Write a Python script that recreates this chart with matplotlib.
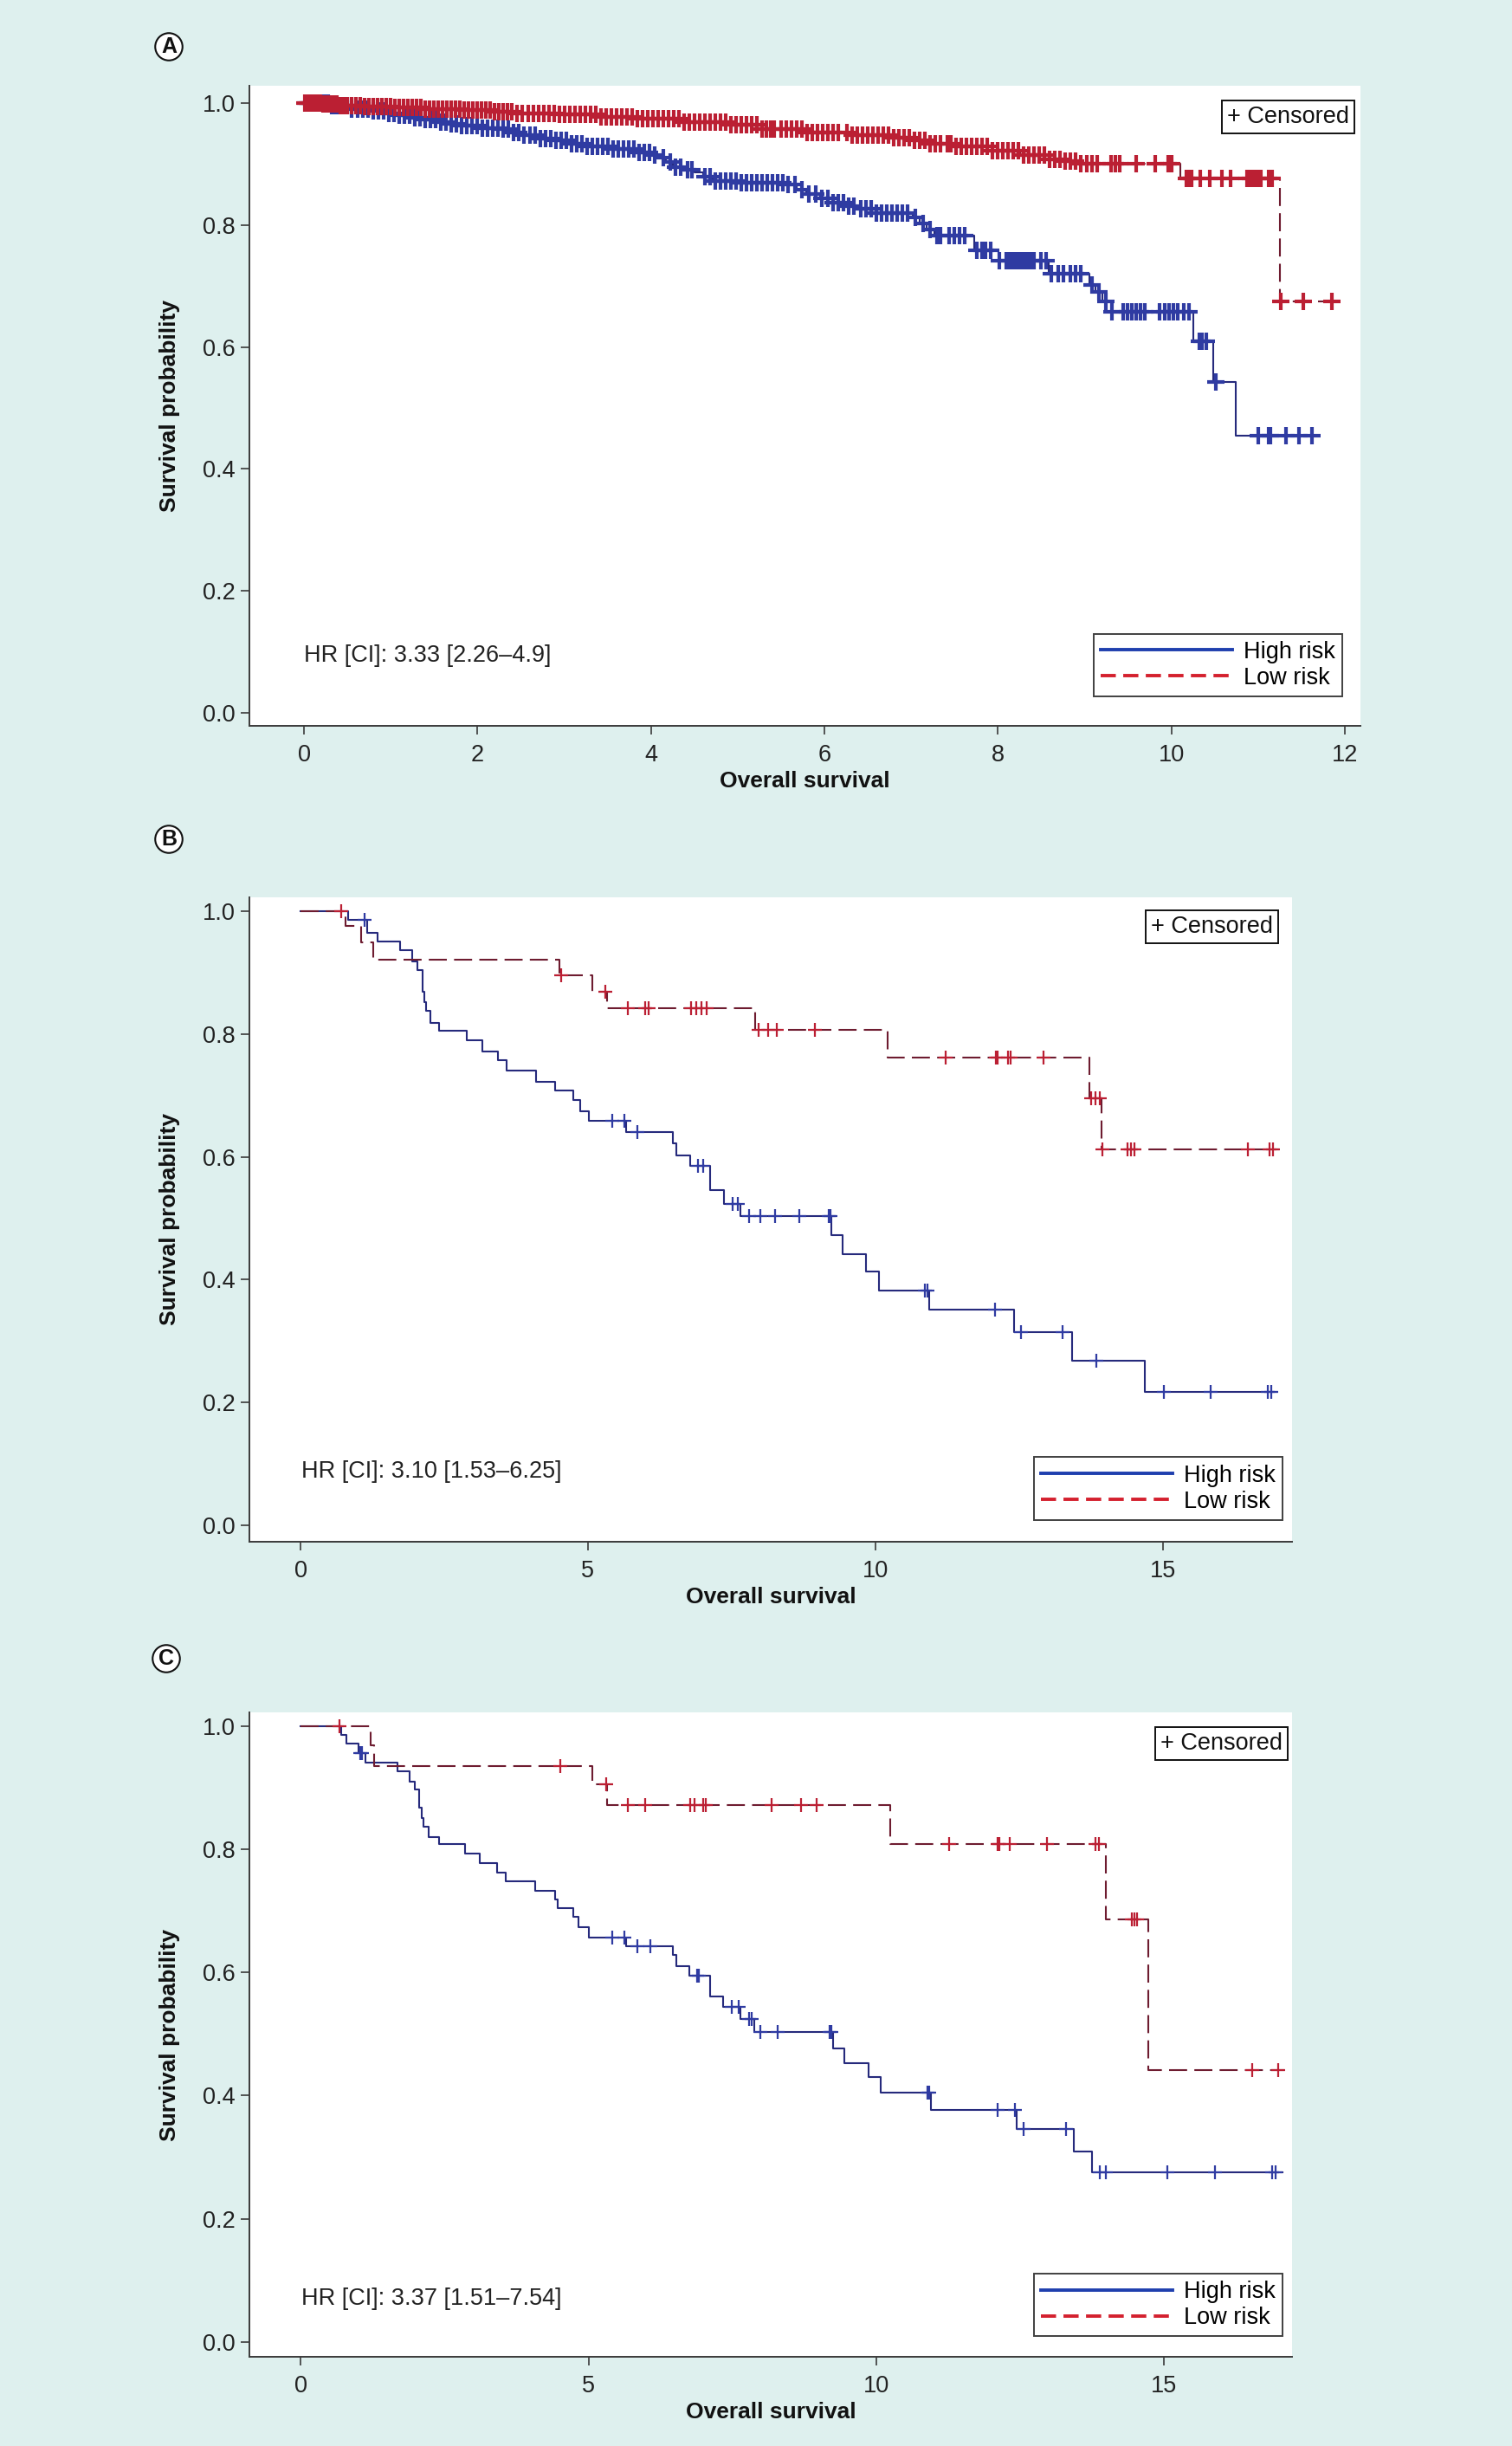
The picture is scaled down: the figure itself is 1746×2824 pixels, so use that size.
import numpy as np
import matplotlib
matplotlib.use("Agg")
import matplotlib.pyplot as plt
from matplotlib.lines import Line2D

plt.rcParams['font.family'] = ['Liberation Sans', 'DejaVu Sans']

# ---------------- Panel A data ----------------
a_high_times = [0.30, 0.53, 0.75, 0.94, 1.10, 1.23, 1.40, 1.56, 1.70, 1.81, 2.05, 2.27, 2.40, 2.52,
                2.70, 2.89, 3.05, 3.26, 3.51, 3.84, 4.00, 4.09, 4.17, 4.25, 4.38, 4.50, 4.60, 4.71,
                5.00, 5.58, 5.68, 5.79, 5.95, 6.10, 6.25, 6.40, 6.55, 7.02, 7.10, 7.18, 7.27, 7.73,
                8.01, 8.59, 9.05, 9.12, 9.20, 9.30, 10.25, 10.48, 10.74]
a_high_surv = [0.995, 0.990, 0.987, 0.983, 0.980, 0.976, 0.972, 0.969, 0.965, 0.962, 0.959, 0.957,
               0.952, 0.947, 0.942, 0.938, 0.933, 0.928, 0.924, 0.919, 0.914, 0.910, 0.903, 0.895,
               0.891, 0.886, 0.879, 0.872, 0.869, 0.866, 0.858, 0.850, 0.843, 0.836, 0.831, 0.826,
               0.819, 0.812, 0.802, 0.792, 0.782, 0.758, 0.741, 0.720, 0.701, 0.690, 0.675, 0.658,
               0.609, 0.542, 0.455]
a_high_end = 11.69
a_high_cens = [0.02, 0.05, 0.08, 0.11, 0.14, 0.17, 0.20, 0.24, 0.28, 0.32, 0.36, 0.40, 0.45, 0.50, 0.55,
               0.62, 0.68, 0.74, 0.80, 0.86, 0.92, 0.98, 1.04, 1.10, 1.16, 1.22, 1.28, 1.34, 1.40, 1.46,
               1.52, 1.58, 1.64, 1.70, 1.76, 1.82, 1.88, 1.94, 2.00, 2.06, 2.12, 2.18, 2.24, 2.30, 2.36,
               2.42, 2.48, 2.54, 2.60, 2.66, 2.72, 2.78, 2.84, 2.90, 2.96, 3.02, 3.08, 3.14, 3.20, 3.26,
               3.32, 3.38, 3.44, 3.50, 3.56, 3.62, 3.68, 3.74, 3.80, 3.86, 3.92, 3.98, 4.04,
               4.14, 4.22, 4.28, 4.34, 4.42, 4.47,
               4.62, 4.68, 4.74, 4.80, 4.86, 4.92, 4.98, 5.04, 5.10, 5.16, 5.22, 5.28, 5.34, 5.40, 5.46,
               5.52, 5.58, 5.66, 5.74, 5.82, 5.90, 5.97,
               6.04, 6.10, 6.16, 6.22, 6.28, 6.34, 6.42, 6.48, 6.54, 6.60, 6.66, 6.72, 6.78, 6.84, 6.90,
               6.96, 7.05, 7.14, 7.22, 7.30, 7.34, 7.44, 7.50, 7.56, 7.62, 7.76, 7.82, 7.86, 7.92, 8.02,
               8.10, 8.14, 8.18, 8.22, 8.26, 8.30, 8.34, 8.38, 8.42, 8.50, 8.56, 8.62, 8.70, 8.76, 8.84,
               8.90, 8.96, 9.08, 9.16, 9.24,
               9.31, 9.44, 9.49, 9.54, 9.59, 9.64, 9.69, 9.86, 9.92, 9.97, 10.02, 10.07, 10.14, 10.20,
               10.32, 10.35, 10.40, 10.51, 11.00, 11.12, 11.14, 11.32, 11.47, 11.62]

a_low_times = [0.20, 0.41, 0.70, 1.03, 1.40, 1.85, 2.20, 2.43, 2.93, 3.40, 3.84, 4.34, 4.88, 5.25,
               5.79, 6.32, 6.77, 7.00, 7.20, 7.52, 7.90, 8.26, 8.60, 8.76, 8.92, 10.10, 11.25]
a_low_surv = [0.998, 0.996, 0.994, 0.992, 0.990, 0.988, 0.985, 0.983, 0.981, 0.977, 0.974, 0.969,
              0.964, 0.957, 0.952, 0.947, 0.943, 0.938, 0.933, 0.928, 0.922, 0.914, 0.908, 0.904,
              0.900, 0.876, 0.675]
a_low_end = 11.94
a_low_cens = [0.01, 0.04, 0.07, 0.10, 0.13, 0.16, 0.19, 0.22, 0.26, 0.30, 0.34, 0.38, 0.42, 0.46, 0.50,
              0.55, 0.60, 0.65, 0.70, 0.75, 0.80, 0.85, 0.90, 0.95, 1.00, 1.05, 1.10, 1.15, 1.20, 1.25,
              1.30, 1.35, 1.40, 1.45, 1.50, 1.55, 1.60, 1.65, 1.70, 1.75, 1.80, 1.85, 1.90, 1.95, 2.00,
              2.05, 2.10, 2.15, 2.20, 2.25, 2.30, 2.35, 2.40,
              2.46, 2.52, 2.58, 2.64, 2.70, 2.76, 2.82, 2.88, 2.94, 3.00, 3.06, 3.12, 3.18, 3.24, 3.30,
              3.36, 3.42, 3.48, 3.54, 3.60, 3.66, 3.72, 3.78, 3.84, 3.90, 3.96, 4.02, 4.08, 4.14, 4.20,
              4.26, 4.32, 4.38, 4.44, 4.50, 4.56, 4.62, 4.68, 4.74, 4.80, 4.86, 4.92, 4.98, 5.04, 5.10,
              5.16, 5.22, 5.28,
              5.33, 5.38, 5.42, 5.50, 5.56, 5.62, 5.68, 5.74,
              5.80, 5.86, 5.92, 5.98, 6.04, 6.10, 6.16, 6.26, 6.32, 6.38, 6.44, 6.50, 6.56, 6.62, 6.68,
              6.74, 6.80, 6.86, 6.92, 6.98, 7.04, 7.10, 7.16, 7.22, 7.28, 7.34, 7.42, 7.46, 7.52, 7.58,
              7.64, 7.70, 7.76, 7.82, 7.88, 7.94, 8.00, 8.06, 8.12, 8.18, 8.24, 8.30, 8.36, 8.42, 8.48,
              8.54, 8.60, 8.66, 8.72, 8.78, 8.84, 8.90, 8.96,
              9.02, 9.08, 9.14, 9.30, 9.35, 9.40, 9.59, 9.81, 9.96, 10.00,
              10.17, 10.20, 10.23, 10.33, 10.44, 10.58, 10.68, 10.87, 10.91, 10.95, 10.99, 11.03,
              11.12, 11.16, 11.26, 11.52, 11.85]

# ---------------- Panel B data ----------------
b_high_times = [0.835, 1.16, 1.34, 1.73, 1.94, 2.03, 2.12, 2.16, 2.19, 2.26, 2.41, 2.89, 3.16, 3.44,
                3.58, 4.10, 4.43, 4.75, 4.86, 5.02, 5.66, 6.48, 6.54, 6.78, 7.12, 7.36, 7.66, 9.24,
                9.43, 9.84, 10.06, 10.93, 12.41, 13.42, 14.69]
b_high_surv = [0.986, 0.965, 0.951, 0.937, 0.918, 0.904, 0.869, 0.852, 0.838, 0.819, 0.805, 0.790,
               0.772, 0.758, 0.741, 0.723, 0.708, 0.693, 0.674, 0.659, 0.641, 0.622, 0.603, 0.585,
               0.546, 0.524, 0.503, 0.473, 0.442, 0.413, 0.382, 0.351, 0.315, 0.268, 0.217]
b_high_end = 16.98
b_high_cens = [1.12, 5.42, 5.64, 5.86, 6.91, 7.00, 7.51, 7.61, 7.80, 8.00, 8.25, 8.68, 9.19, 9.22,
               10.86, 10.90, 12.08, 12.54, 13.26, 13.85, 15.02, 15.84, 16.83, 16.89]

b_low_times = [0.78, 1.05, 1.26, 4.50, 5.08, 5.33, 7.91, 10.22, 13.72, 13.93]
b_low_surv = [0.977, 0.950, 0.921, 0.896, 0.869, 0.842, 0.807, 0.762, 0.695, 0.613]
b_low_end = 17.03
b_low_cens = [0.71, 4.53, 5.30, 5.69, 6.00, 6.05, 6.79, 6.88, 6.97, 7.06, 7.97, 8.13, 8.28, 8.95,
              11.23, 12.09, 12.12, 12.31, 12.35, 12.92, 13.75, 13.83, 13.90, 13.95, 14.39, 14.45,
              14.51, 16.48, 16.86, 16.92]

# ---------------- Panel C data ----------------
c_high_times = [0.70, 0.80, 1.00, 1.13, 1.68, 1.89, 1.99, 2.06, 2.10, 2.14, 2.23, 2.40, 2.85, 3.11,
                3.41, 3.56, 4.07, 4.42, 4.46, 4.73, 4.83, 5.00, 5.65, 6.47, 6.53, 6.75, 7.11, 7.34,
                7.64, 7.88, 9.25, 9.45, 9.86, 10.08, 10.95, 12.43, 13.43, 13.74]
c_high_surv = [0.985, 0.971, 0.956, 0.941, 0.926, 0.910, 0.897, 0.868, 0.851, 0.837, 0.820, 0.809,
               0.793, 0.778, 0.762, 0.748, 0.733, 0.719, 0.704, 0.690, 0.674, 0.657, 0.643, 0.628,
               0.610, 0.595, 0.561, 0.544, 0.524, 0.503, 0.477, 0.453, 0.430, 0.405, 0.376, 0.346,
               0.309, 0.276]
c_high_end = 17.06
c_high_cens = [1.04, 1.07, 5.41, 5.62, 5.85, 6.07, 6.89, 6.92, 7.49, 7.61, 7.79, 7.83, 7.99, 8.28,
               9.19, 9.22, 10.89, 10.92, 12.10, 12.41, 12.55, 13.29, 13.88, 13.98, 15.06, 15.88,
               16.88, 16.93]

c_low_times = [1.22, 1.28, 5.06, 5.32, 10.24, 13.98, 14.73]
c_low_surv = [0.968, 0.935, 0.905, 0.871, 0.809, 0.686, 0.441]
c_low_end = 17.09
c_low_cens = [0.67, 4.51, 5.30, 5.68, 5.98, 6.77, 6.84, 6.99, 7.03, 8.18, 8.69, 8.96, 11.26, 12.10,
              12.14, 12.32, 12.96, 13.81, 13.87, 14.44, 14.48, 14.53, 16.53, 16.98]

hr_texts = ["HR [CI]: 3.33 [2.26\u20134.9]", "HR [CI]: 3.10 [1.53\u20136.25]", "HR [CI]: 3.37 [1.51\u20137.54]"]
panel_letters = ["A", "B", "C"]
series_labels = ["High risk", "Low risk"]

# ---------------- styling ----------------
BG = '#def0ee'
BLUE_LINE = '#262a7c'
BLUE_MARK = '#2f3ba2'
RED_LINE = '#6e1c30'
RED_MARK = '#bb1f33'
LEG_BLUE = '#1f3fae'
LEG_RED = '#d4202e'
FS = 19.5
LFS = 19

fig = plt.figure(figsize=(17.46, 28.24), dpi=100, facecolor=BG)


def step_value(times, surv, t):
    idx = np.searchsorted(np.asarray(times), t, side='right')
    vals = np.concatenate([[1.0], np.asarray(surv)])
    return vals[idx]


def draw_km(ax, times, surv, end, cens, lcol, mcol, ls, ms, mew):
    x = [0.0] + list(times) + [end]
    y = [1.0] + list(surv) + [surv[-1]]
    ax.step(x, y, where='post', color=lcol, lw=1.5, linestyle=ls, zorder=3)
    cy = step_value(times, surv, np.asarray(cens))
    ax.plot(cens, cy, linestyle='none', marker='+', markersize=ms, markeredgewidth=mew,
            color=mcol, zorder=4)


panels = [
    dict(rect=[288, 99, 1571, 838], xlim=(-0.63, 12.18), ylim=(-0.021, 1.028), xticks=[0, 2, 4, 6, 8, 10, 12],
         high=(a_high_times, a_high_surv, a_high_end, a_high_cens),
         low=(a_low_times, a_low_surv, a_low_end, a_low_cens), ms=15, mew=3.0,
         cens_box=(0.990, 0.969), leg=(0.984, 0.046), hr=(0.049, 0.110), letter=(195, 54)),
    dict(rect=[288, 1036, 1492, 1780], xlim=(-0.89, 17.25), ylim=(-0.027, 1.023), xticks=[0, 5, 10, 15],
         high=(b_high_times, b_high_surv, b_high_end, b_high_cens),
         low=(b_low_times, b_low_surv, b_low_end, b_low_cens), ms=12, mew=1.6,
         cens_box=(0.982, 0.972), leg=(0.991, 0.034), hr=(0.050, 0.109), letter=(195, 969)),
    dict(rect=[288, 1977, 1492, 2721], xlim=(-0.89, 17.22), ylim=(-0.024, 1.022), xticks=[0, 5, 10, 15],
         high=(c_high_times, c_high_surv, c_high_end, c_high_cens),
         low=(c_low_times, c_low_surv, c_low_end, c_low_cens), ms=12, mew=1.6,
         cens_box=(0.991, 0.969), leg=(0.991, 0.032), hr=(0.050, 0.090), letter=(192, 1915)),
]

W, H = 1746.0, 2824.0
for i, p in enumerate(panels):
    l, t, r, b = p['rect']
    ax = fig.add_axes([l / W, 1 - b / H, (r - l) / W, (b - t) / H])
    ax.set_facecolor('white')
    for s in ['top', 'right']:
        ax.spines[s].set_visible(False)
    for s in ['left', 'bottom']:
        ax.spines[s].set_color('#3a3a3a')
        ax.spines[s].set_linewidth(1.4)
    draw_km(ax, *p['high'], BLUE_LINE, BLUE_MARK, '-', p['ms'], p['mew'])
    draw_km(ax, *p['low'], RED_LINE, RED_MARK, (0, (10, 4)), p['ms'], p['mew'])
    ax.set_xlim(*p['xlim'])
    ax.set_ylim(*p['ylim'])
    ax.set_xticks(p['xticks'])
    ax.set_yticks([0.0, 0.2, 0.4, 0.6, 0.8, 1.0])
    ax.set_yticklabels(['0.0', '0.2', '0.4', '0.6', '0.8', '1.0'])
    ax.tick_params(axis='both', direction='out', length=7, width=1.2, color='#3a3a3a',
                   labelsize=FS, labelcolor='#222222', pad=5)
    ax.tick_params(axis='x', pad=8)
    ax.set_xlabel('Overall survival', fontsize=LFS, fontweight='bold', labelpad=4, color='#111111')
    ax.set_ylabel('Survival probability', fontsize=LFS, fontweight='bold', labelpad=18, color='#111111')

    # + Censored box
    ax.text(p['cens_box'][0], p['cens_box'][1], '+ Censored', transform=ax.transAxes,
            ha='right', va='top', fontsize=FS, color='#111111',
            bbox=dict(boxstyle='square,pad=0.22', fc='white', ec='#111111', lw=1.4), zorder=6)

    # HR text
    ax.text(p['hr'][0], p['hr'][1], hr_texts[i], transform=ax.transAxes, ha='left', va='center',
            fontsize=FS, color='#222222')

    # legend
    handles = [Line2D([0], [0], color=LEG_BLUE, lw=2.8, linestyle='-'),
               Line2D([0], [0], color=LEG_RED, lw=2.8, linestyle=(0, (4.5, 2.2)))]
    leg = ax.legend(handles, series_labels, loc='lower right', bbox_to_anchor=p['leg'],
                    fontsize=FS, frameon=True, fancybox=False, handlelength=5.6,
                    handletextpad=0.5, borderpad=0.3, labelspacing=0.15, borderaxespad=0)
    leg.get_frame().set_edgecolor('#111111')
    leg.get_frame().set_linewidth(1.4)

    # panel letter
    fig.text(p['letter'][0] / W, 1 - p['letter'][1] / H, panel_letters[i], ha='center', va='center',
             fontsize=18, fontweight='bold', color='#111111',
             bbox=dict(boxstyle='circle,pad=0.15', fc='white', ec='#111111', lw=1.5))

fig.savefig('out.png', dpi=100, facecolor=BG)
